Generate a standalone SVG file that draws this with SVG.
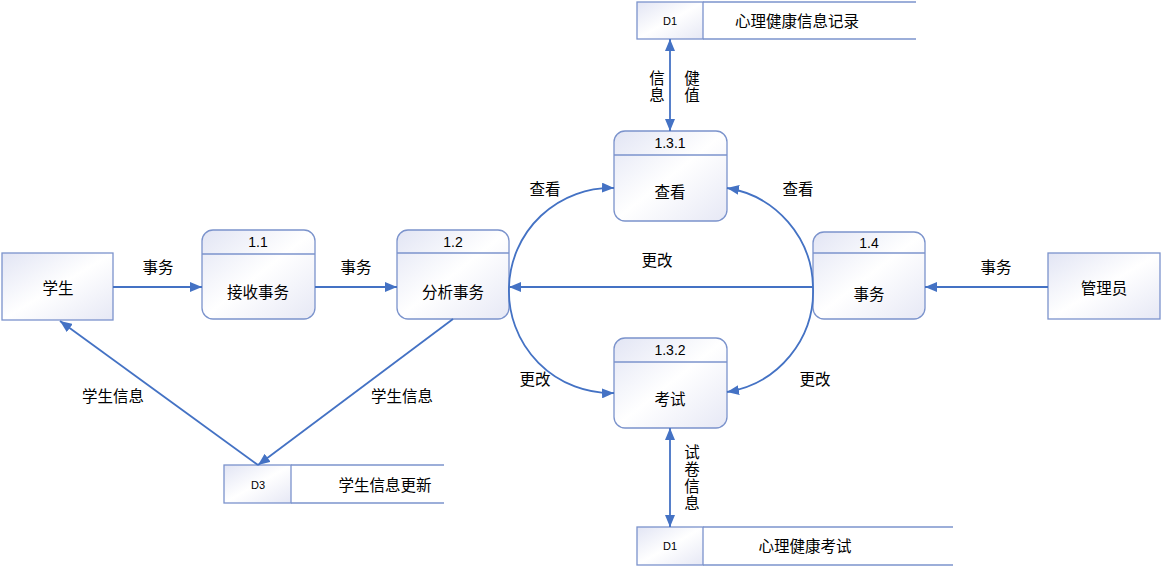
<svg xmlns="http://www.w3.org/2000/svg" width="1162" height="566" viewBox="0 0 1162 566">
<style>
text{font-family:"Noto Sans CJK SC","Liberation Sans",sans-serif;fill:#000;text-anchor:middle;dominant-baseline:central}
.t{font-size:15.5px}
.v{font-size:15.5px;writing-mode:vertical-rl;letter-spacing:1.5px}
.n{font-size:14px;font-family:"Liberation Sans","Noto Sans CJK SC",sans-serif}
.d{font-size:11px;font-family:"Liberation Sans",sans-serif}
.box{fill:url(#g);stroke:#7b93cc;stroke-width:1.3}
.ln{stroke:#7b93cc;stroke-width:1.3;fill:none}
.c{stroke:#4472c4;stroke-width:1.8;fill:none}
</style>
<defs>
<linearGradient id="g" x1="0" y1="0" x2="1" y2="1">
<stop offset="0" stop-color="#e2e5f4"/>
<stop offset="0.5" stop-color="#ffffff"/>
<stop offset="1" stop-color="#e6e8f5"/>
</linearGradient>
<marker id="a" viewBox="0 0 12 10" refX="12" refY="5" markerWidth="12" markerHeight="10" markerUnits="userSpaceOnUse" orient="auto-start-reverse">
<path d="M0,0 L12,5 L0,10 Z" fill="#4472c4"/>
</marker>
</defs>

<g id="student">
<rect class="box" x="2" y="253" width="111" height="67"/>
<text class="t" x="58" y="287">学生</text>
</g>
<g id="admin">
<rect class="box" x="1048" y="253" width="112" height="66"/>
<text class="t" x="1104" y="287">管理员</text>
</g>

<g id="p11">
<rect class="box" x="202" y="230" width="113" height="89" rx="11"/>
<line class="ln" x1="202" y1="254" x2="315" y2="254"/>
<text class="n" x="258" y="242">1.1</text>
<text class="t" x="258" y="291">接收事务</text>
</g>
<g id="p12">
<rect class="box" x="397" y="230" width="112" height="89" rx="11"/>
<line class="ln" x1="397" y1="253" x2="509" y2="253"/>
<text class="n" x="453" y="242">1.2</text>
<text class="t" x="453" y="291">分析事务</text>
</g>
<g id="p131">
<rect class="box" x="614" y="131" width="113" height="90" rx="11"/>
<line class="ln" x1="614" y1="155" x2="727" y2="155"/>
<text class="n" x="670" y="143">1.3.1</text>
<text class="t" x="670" y="191">查看</text>
</g>
<g id="p132">
<rect class="box" x="614" y="338" width="113" height="90" rx="11"/>
<line class="ln" x1="614" y1="362" x2="727" y2="362"/>
<text class="n" x="670" y="350">1.3.2</text>
<text class="t" x="670" y="398">考试</text>
</g>
<g id="p14">
<rect class="box" x="813" y="232" width="112" height="87" rx="11"/>
<line class="ln" x1="813" y1="253" x2="925" y2="253"/>
<text class="n" x="869" y="243">1.4</text>
<text class="t" x="869" y="293">事务</text>
</g>

<g id="d1top">
<rect class="box" x="637" y="2" width="66" height="37"/>
<line class="ln" x1="703" y1="2" x2="916" y2="2"/>
<line class="ln" x1="703" y1="39" x2="916" y2="39"/>
<text class="d" x="670" y="21">D1</text>
<text class="t" x="797" y="20">心理健康信息记录</text>
</g>
<g id="d3">
<rect class="box" x="224" y="465" width="67" height="38"/>
<line class="ln" x1="291" y1="465" x2="444" y2="465"/>
<line class="ln" x1="291" y1="503" x2="444" y2="503"/>
<text class="d" x="258" y="485">D3</text>
<text class="t" x="385" y="484">学生信息更新</text>
</g>
<g id="d1bottom">
<rect class="box" x="637" y="527" width="66" height="38"/>
<line class="ln" x1="703" y1="527" x2="953" y2="527"/>
<line class="ln" x1="703" y1="565" x2="953" y2="565"/>
<text class="d" x="670" y="546">D1</text>
<text class="t" x="805" y="545">心理健康考试</text>
</g>

<g id="connectors">
<line class="c" x1="113" y1="287" x2="202" y2="287" marker-end="url(#a)"/>
<line class="c" x1="315" y1="287" x2="397" y2="287" marker-end="url(#a)"/>
<line class="c" x1="813" y1="287" x2="509" y2="287" marker-end="url(#a)"/>
<line class="c" x1="1048" y1="287" x2="925" y2="287" marker-end="url(#a)"/>
<line class="c" x1="670" y1="39" x2="670" y2="131" marker-start="url(#a)" marker-end="url(#a)"/>
<line class="c" x1="670" y1="428" x2="670" y2="527" marker-start="url(#a)" marker-end="url(#a)"/>
<path class="c" d="M509,287 A102,102 0 0 1 614,188" marker-end="url(#a)"/>
<path class="c" d="M509,287 A102,102 0 0 0 614,393" marker-end="url(#a)"/>
<path class="c" d="M813,287 A102,102 0 0 0 727,188" marker-end="url(#a)"/>
<path class="c" d="M813,287 A102,102 0 0 1 727,392" marker-end="url(#a)"/>
<line class="c" x1="453" y1="319" x2="258" y2="465" marker-end="url(#a)"/>
<line class="c" x1="258" y1="465" x2="60" y2="321" marker-end="url(#a)"/>
</g>

<g id="labels">
<text class="t" x="158" y="266">事务</text>
<text class="t" x="356" y="266">事务</text>
<text class="t" x="996" y="266">事务</text>
<text class="t" x="657" y="259">更改</text>
<text class="t" x="545" y="188">查看</text>
<text class="t" x="798" y="188">查看</text>
<text class="t" x="535" y="378">更改</text>
<text class="t" x="815" y="378">更改</text>
<text class="t" x="113" y="395">学生信息</text>
<text class="t" x="402" y="395">学生信息</text>
<text class="v" x="657" y="87">信息</text>
<text class="v" x="692" y="87">健值</text>
<text class="v" x="692" y="478">试卷信息</text>
</g>
</svg>
